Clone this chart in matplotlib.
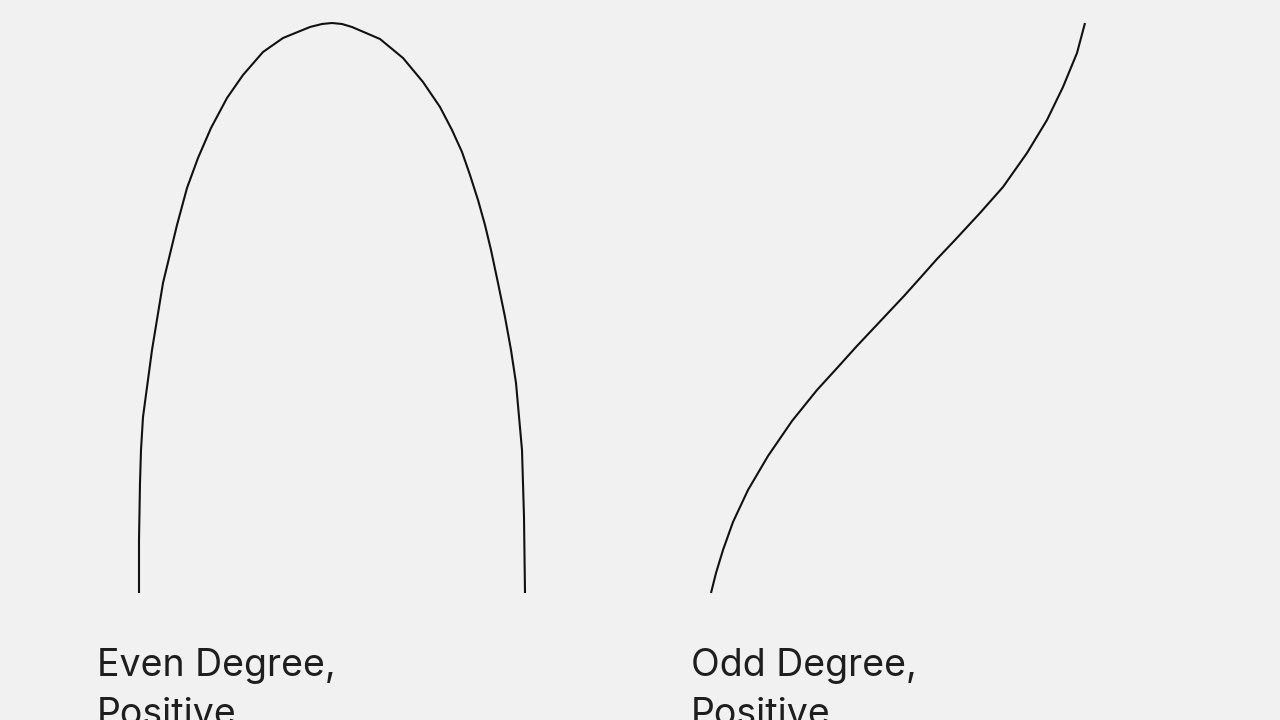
import matplotlib.pyplot as plt

# curve samples (x to the right, y downwards, picture units)
even_x = [139, 139, 140, 141, 143, 152, 163, 177, 187, 198, 211, 227, 243, 263, 283, 310, 322, 332,
          342, 352, 380, 403, 423, 440, 452, 462, 470, 478, 485, 491, 498, 505, 511, 516, 522, 524, 525]
even_y = [593, 540, 483, 450, 417, 350, 283, 225, 188, 158, 128, 98, 75, 52, 38, 27, 24, 23,
          24, 27, 39, 58, 82, 107, 130, 152, 175, 200, 225, 250, 283, 317, 350, 383, 450, 517, 593]

odd_x = [711, 716, 723, 733, 748, 768, 792, 817, 838, 856, 872, 888, 904, 921, 937, 955,
         980, 1003, 1027, 1047, 1063, 1077, 1085]
odd_y = [593, 573, 550, 522, 490, 456, 421, 390, 367, 347, 330, 313, 296, 277, 259, 240,
         213, 187, 153, 120, 87, 53, 23]

labels = [("Even Degree,", "Positive"), ("Odd Degree,", "Positive")]
label_x = [97, 691]

BG = "#f1f1f1"
INK = "#1e1e1e"

fig = plt.figure(figsize=(12.8, 7.2), dpi=100, facecolor=BG)
ax = fig.add_axes([0, 0, 1, 1])
ax.set_facecolor(BG)
ax.set_xlim(0, 1280)
ax.set_ylim(720, 0)
ax.axis("off")

ax.plot(even_x, even_y, color="#111111", linewidth=1.5,
        solid_capstyle="butt", solid_joinstyle="round")
ax.plot(odd_x, odd_y, color="#111111", linewidth=1.5,
        solid_capstyle="butt", solid_joinstyle="round")

# second line of each label runs off the bottom edge, as in the reference
for (first, second), x in zip(labels, label_x):
    ax.text(x, 676, first, fontsize=27, family="Inter", color=INK, va="baseline", ha="left")
    ax.text(x, 725, second, fontsize=27, family="Inter", color=INK, va="baseline", ha="left")

fig.savefig("out.png", dpi=100, facecolor=BG)
